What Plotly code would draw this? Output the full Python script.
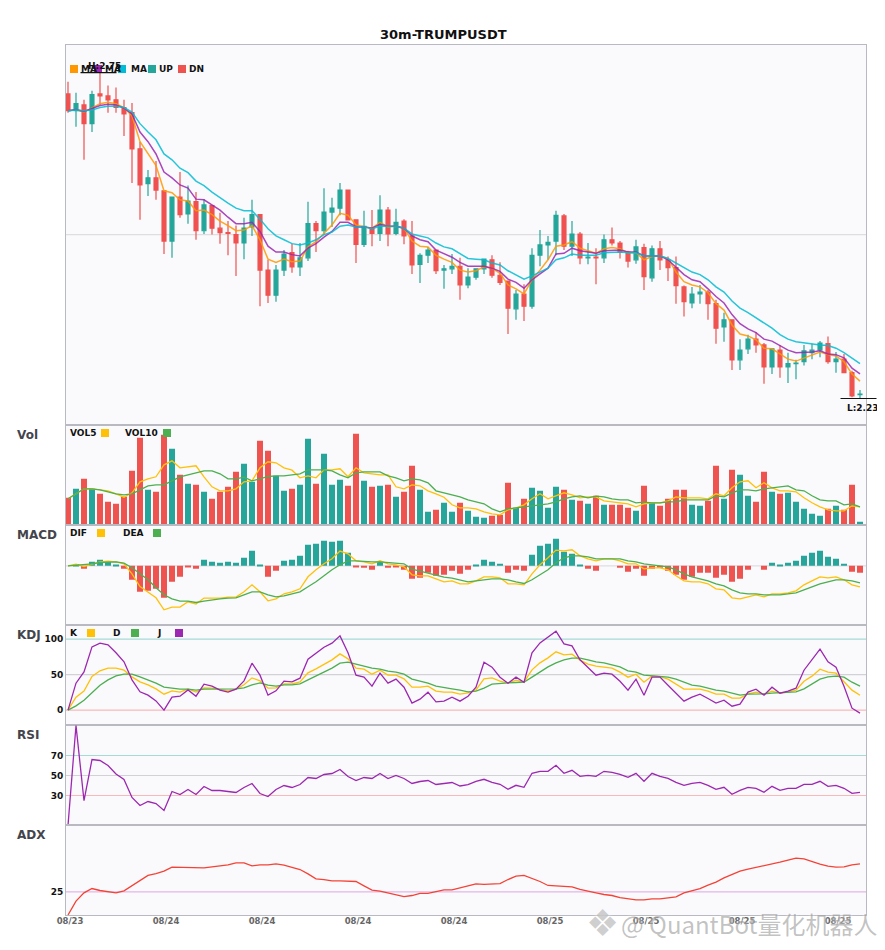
from plotly.subplots import make_subplots
import plotly.graph_objects as go

# --- Data ---
bars = list(range(100))
tick_bars = [0, 12, 24, 36, 48, 60, 72, 84, 96]
tick_dates = ['08/23', '08/24', '08/24', '08/24', '08/24', '08/25', '08/25', '08/25', '08/25']

open_px = [2.702,2.676,2.685,2.656,2.702,2.699,2.693,2.681,2.673,2.617,
    2.563,2.572,2.552,2.474,2.542,2.516,2.535,2.490,2.529,2.494,
    2.487,2.484,2.471,2.496,2.515,2.429,2.390,2.429,2.456,2.434,
    2.448,2.501,2.490,2.519,2.525,2.553,2.507,2.469,2.494,2.486,
    2.522,2.486,2.505,2.482,2.438,2.452,2.460,2.429,2.431,2.435,
    2.406,2.418,2.431,2.445,2.421,2.412,2.369,2.392,2.373,2.452,
    2.468,2.474,2.513,2.466,2.485,2.448,2.449,2.448,2.476,2.471,
    2.457,2.445,2.464,2.417,2.462,2.445,2.433,2.403,2.378,2.392,
    2.395,2.377,2.341,2.352,2.290,2.307,2.322,2.313,2.279,2.305,
    2.279,2.284,2.287,2.301,2.305,2.315,2.287,2.291,2.270,2.236]
close_px = [2.676,2.687,2.656,2.701,2.699,2.693,2.681,2.671,2.617,2.561,
    2.572,2.553,2.474,2.542,2.515,2.536,2.490,2.530,2.494,2.487,
    2.486,2.471,2.494,2.515,2.429,2.390,2.429,2.454,2.434,2.448,
    2.501,2.490,2.519,2.525,2.553,2.507,2.469,2.497,2.486,2.522,
    2.485,2.503,2.482,2.437,2.452,2.460,2.428,2.431,2.435,2.406,
    2.418,2.431,2.446,2.421,2.410,2.370,2.392,2.373,2.452,2.468,
    2.472,2.514,2.466,2.485,2.448,2.449,2.448,2.476,2.471,2.457,
    2.443,2.465,2.419,2.462,2.445,2.433,2.405,2.380,2.392,2.395,
    2.377,2.339,2.352,2.290,2.305,2.322,2.313,2.279,2.307,2.279,
    2.284,2.285,2.304,2.305,2.316,2.287,2.291,2.270,2.234,2.237]
high_px = [2.721,2.704,2.693,2.707,2.735,2.715,2.712,2.693,2.688,2.628,
    2.584,2.598,2.552,2.542,2.581,2.560,2.550,2.539,2.530,2.518,
    2.505,2.498,2.510,2.538,2.515,2.445,2.437,2.460,2.470,2.471,
    2.535,2.505,2.556,2.541,2.564,2.553,2.508,2.521,2.522,2.545,
    2.527,2.524,2.508,2.505,2.455,2.465,2.460,2.437,2.454,2.448,
    2.432,2.432,2.446,2.452,2.441,2.412,2.398,2.407,2.463,2.491,
    2.482,2.521,2.516,2.505,2.488,2.471,2.463,2.484,2.495,2.474,
    2.459,2.476,2.470,2.467,2.474,2.450,2.450,2.405,2.403,2.406,
    2.398,2.383,2.363,2.353,2.322,2.329,2.333,2.316,2.308,2.313,
    2.301,2.290,2.313,2.315,2.319,2.326,2.302,2.299,2.273,2.243]
low_px = [2.673,2.651,2.600,2.643,2.685,2.673,2.673,2.637,2.564,2.507,
    2.544,2.538,2.454,2.448,2.510,2.501,2.476,2.485,2.484,2.470,
    2.452,2.420,2.446,2.482,2.373,2.378,2.380,2.420,2.425,2.420,
    2.443,2.457,2.484,2.496,2.514,2.507,2.440,2.465,2.466,2.474,
    2.466,2.483,2.469,2.423,2.409,2.440,2.423,2.400,2.423,2.383,
    2.401,2.414,2.423,2.417,2.406,2.330,2.352,2.350,2.369,2.435,
    2.445,2.452,2.460,2.451,2.438,2.438,2.407,2.440,2.467,2.447,
    2.433,2.439,2.398,2.411,2.429,2.412,2.377,2.357,2.370,2.377,
    2.352,2.315,2.318,2.274,2.274,2.299,2.301,2.253,2.268,2.262,
    2.254,2.260,2.281,2.291,2.294,2.284,2.270,2.270,2.232,2.230]

ma_fast = [2.676,2.677,2.674,2.681,2.687,2.689,2.687,2.681,2.668,2.628,
    2.609,2.591,2.552,2.549,2.538,2.536,2.521,2.522,2.515,2.505,
    2.498,2.490,2.491,2.498,2.476,2.446,2.441,2.446,2.442,2.443,
    2.465,2.473,2.486,2.499,2.517,2.514,2.499,2.497,2.494,2.503,
    2.496,2.497,2.494,2.474,2.466,2.465,2.452,2.446,2.441,2.429,
    2.426,2.428,2.434,2.432,2.424,2.406,2.400,2.392,2.414,2.429,
    2.445,2.466,2.468,2.473,2.463,2.459,2.455,2.462,2.464,2.462,
    2.456,2.456,2.445,2.450,2.451,2.447,2.426,2.411,2.406,2.403,
    2.394,2.377,2.367,2.344,2.330,2.327,2.321,2.308,2.307,2.299,
    2.291,2.288,2.293,2.298,2.302,2.298,2.296,2.287,2.268,2.257]
ma_mid = [2.676,2.678,2.675,2.679,2.684,2.686,2.685,2.680,2.671,2.643,
    2.628,2.609,2.581,2.572,2.561,2.556,2.539,2.538,2.530,2.522,
    2.511,2.501,2.501,2.503,2.489,2.466,2.457,2.457,2.453,2.451,
    2.463,2.470,2.480,2.489,2.503,2.503,2.496,2.496,2.494,2.500,
    2.497,2.497,2.494,2.482,2.476,2.473,2.460,2.454,2.449,2.441,
    2.435,2.435,2.435,2.432,2.427,2.415,2.410,2.401,2.414,2.423,
    2.432,2.454,2.455,2.463,2.459,2.457,2.455,2.459,2.460,2.460,
    2.457,2.457,2.451,2.451,2.451,2.445,2.434,2.422,2.414,2.411,
    2.400,2.388,2.378,2.360,2.346,2.338,2.332,2.322,2.319,2.312,
    2.305,2.301,2.301,2.302,2.304,2.299,2.298,2.293,2.277,2.268]
ma_slow = [2.676,2.677,2.676,2.677,2.681,2.683,2.683,2.681,2.674,2.656,
    2.643,2.631,2.609,2.600,2.587,2.580,2.567,2.560,2.550,2.541,
    2.533,2.525,2.521,2.521,2.508,2.493,2.482,2.476,2.470,2.468,
    2.471,2.476,2.484,2.488,2.497,2.499,2.496,2.496,2.493,2.497,
    2.497,2.497,2.494,2.485,2.482,2.479,2.471,2.465,2.462,2.454,
    2.447,2.446,2.445,2.440,2.437,2.428,2.421,2.415,2.420,2.426,
    2.432,2.445,2.448,2.454,2.452,2.452,2.452,2.456,2.457,2.457,
    2.456,2.456,2.451,2.451,2.451,2.447,2.440,2.433,2.426,2.422,
    2.414,2.403,2.395,2.381,2.370,2.363,2.355,2.346,2.339,2.329,
    2.322,2.318,2.316,2.315,2.313,2.312,2.308,2.301,2.293,2.284]

volume = [26.7,35.7,45.7,35.7,30.7,22.7,20.7,27.7,53.7,86.7,
    34.7,32.7,89.7,75.7,49.7,40.7,39.7,32.7,25.7,32.7,
    37.7,52.7,60.7,42.7,83.7,73.7,48.7,33.7,35.7,39.7,
    85.7,40.7,70.7,39.7,44.7,38.7,90.7,43.7,37.7,38.7,
    39.7,27.7,32.7,58.7,34.7,12.7,14.7,21.7,12.7,21.7,
    13.7,7.7,6.7,8.7,9.7,41.7,16.7,25.7,36.7,33.7,
    16.7,37.7,34.7,24.7,23.7,20.7,28.7,19.7,19.7,19.7,
    16.7,13.7,38.7,21.7,18.7,25.7,34.7,34.7,19.7,18.7,
    23.7,58.7,25.7,54.7,49.7,28.7,22.7,52.7,32.7,30.7,
    31.7,22.7,15.7,10.7,8.7,15.7,18.7,14.7,39.7,2.7]
vol5 = [25.7,30.7,35.7,35.7,34.7,33.7,30.7,27.3,31.7,42.7,
    45.7,47.7,59.7,63.7,56.7,57.7,58.7,47.7,37.7,33.7,
    33.7,35.7,42.7,43.7,56.7,62.7,61.7,56.7,54.3,46.7,
    48.7,46.7,54.7,54.7,55.7,47.7,56.7,51.7,50.7,49.7,
    49.7,37.7,35.7,39.7,38.7,33.7,30.7,27.3,19.7,16.7,
    16.7,15.7,12.7,10.7,9.7,14.7,16.7,19.7,25.7,30.7,
    25.7,28.7,31.7,29.7,26.7,27.7,27.7,23.7,22.7,21.7,
    20.7,17.7,20.7,21.7,21.7,23.7,27.7,26.7,26.7,26.7,
    25.7,30.7,28.7,36.7,42.7,43.7,36.7,41.7,36.7,33.7,
    33.7,32.7,26.7,21.7,17.7,14.7,13.7,13.7,18.7,17.7]
vol10 = [25.7,30.7,35.7,35.7,34.7,32.7,30.7,29.7,30.7,34.7,
    38.7,39.7,39.7,43.7,47.7,49.7,51.7,53.7,53.7,50.7,
    45.7,45.7,47.3,43.7,45.7,48,48.7,48.7,49.7,50.7,
    54.7,54.7,54.7,53.7,49.7,46.7,51.7,52.7,52.7,52.7,
    48.7,46.7,43.7,45.7,44.7,41.7,33.7,31.7,29.7,27.7,
    24.7,22.7,20.7,15.7,12.7,15.7,16.7,17.7,18.7,19.7,
    20.7,22.7,25.7,27.7,28.7,26.7,28.3,27.7,25.7,24.7,
    24.7,21.7,22.3,21.7,21.7,22.7,22.7,24.7,24.7,24.7,
    24.7,28.7,27.7,31.7,34.7,34.7,33.7,35.7,36.7,37.7,
    38.7,34.7,33.7,28.7,24.7,23.7,23.7,19.7,20.7,17.7]

# MACD values are in thousandths
macd_hist = [0,1.7,-3,4,6,4.7,1,-3,-14,-26,
    -25,-23,-32,-16,-11,-1,-3,6,4,3,
    4,3,8,15,1,-11,-5,5,6,10,
    21,22,25,24,25,13,-1,-2,-4,4,
    -2,-1,-4,-13,-12,-7,-10,-9,-5,-8,
    -4,1,6,4,2,-7,-4,-5,11,20,
    22,27,14,12,1,-3,-5,0,0,-2,
    -6,-3,-10,-3,-2,-5,-9,-14,-11,-7,
    -7,-12,-9,-16,-13,-4,0,-4,3,1,
    3,5,10,13,15,9,7,2,-6,-7]
dif = [0,1.7,-0.7,2,4,4.7,4,2,-8,-20.7,
    -26.3,-32,-44,-41.3,-41.3,-36,-38.3,-32.3,-32.3,-32.3,
    -31.3,-31.3,-26,-19,-26,-35,-33,-28,-26,-23,
    -11,-4,2,7,14.7,12,5,4,2,5,
    2,1,-1,-9,-10,-10,-13,-16,-15,-18,
    -18,-15,-11,-11,-12,-18,-18,-19,-8,1,
    8,15.7,15,16,10,7,5,7,7,5,
    2,2,-3,-2,-2,-4,-10,-15,-16,-16,
    -18,-23,-24,-32,-33,-31,-29,-31,-28,-28,
    -27,-25,-19,-15,-11,-12,-11,-14,-19,-21]
dea = [0,0.7,0.7,2,3.3,4,4,2.7,-2,-8,
    -14,-22,-29,-33,-35.3,-35.3,-36.7,-35.3,-34,-33,
    -32.3,-32,-29,-26,-26,-29,-31,-30,-28,-26,
    -21,-16,-10,-4,1,5,5,4.3,4,4,
    3.3,3,2,-3.3,-5.3,-7,-9,-11.3,-12.3,-14,
    -16,-15,-14,-13,-13,-14,-16,-17.7,-14,-9,
    -4,3,8,10,10,9,7,7,7,7,
    5,4,2,1,0,-1,-4,-8,-11,-13,
    -15,-18,-20,-24,-27,-28,-28,-29,-29,-29,
    -28,-27,-24,-21,-18,-16,-14,-14,-15,-17]

kdj_k = [0,18.3,26.8,47.4,55.4,59.2,59.2,56.3,46.9,39.9,
    35.7,30,22.5,27.2,25.4,30,25.4,31.5,31,29.6,
    27.2,29.6,35.7,45.5,41.3,31,31.5,37.1,37.1,39.9,
    52.6,58.2,64.8,70.9,79.3,72.3,59.2,57.8,50.7,56.3,
    49.3,49.3,44.1,32.4,32.4,33.8,26.8,25.4,25.4,22.5,
    24.4,28.6,44.1,45.5,40.8,38,42.3,39.4,56.8,66.7,
    73.7,82.2,78,78.9,70.4,64.8,62,60.6,59.2,53.5,
    46.5,50.7,39.4,48.3,47.4,43.7,36.6,29.6,29.6,29.6,
    26.8,22.5,22.5,16.9,16.9,23,25.4,22.5,26.8,23.9,
    25.4,28.2,40.8,47.9,57.8,53.5,52.1,40.8,28.2,21.1]
kdj_d = [0,6.1,14.1,24.4,35.2,42.7,48.3,50.7,50.7,46.9,
    42.7,38,32.4,31,29.6,29.6,28.2,29.6,29.6,29.6,
    29.6,30,31.5,35.7,38.5,35.2,33.8,35.7,35.7,37.1,
    42.7,48.3,53.9,59.2,66.2,67.6,64.8,62,59.2,57.8,
    55,53.5,50.7,43.7,40.8,38,33.8,31.5,30,28.2,
    25.8,26.8,31,36.6,38,38.5,39,39.4,46.5,54,
    61,66.7,70.9,73.2,73.2,70.9,68.1,66.7,63.8,61,
    55.4,53.5,49.3,48.3,47.4,46.5,43.7,39.4,35.2,33.8,
    31,28.2,26.8,23.9,21.1,22.5,22.5,23,23.9,24.4,
    24.9,25.8,30,36.6,43.7,46.9,47.9,46.5,39.4,33.8]
kdj_j = [0,38,54,89.2,94.4,92,80.8,68.1,42.7,25.8,
    21.1,13.1,0,18.3,19.7,28.6,19.7,36.6,33.8,28.2,
    25.4,29.6,41.3,66.2,49.3,21.1,27.2,40.8,39.9,45.1,
    71.8,80.3,88.7,94.4,104.7,80.8,49.3,46.5,33.8,52.1,
    38,43.7,32.4,9.9,15.5,25.4,11.7,12.7,18.3,12.7,
    19.7,32.4,67.6,60.6,46.5,38,46.5,39.4,80.8,94.8,
    102.8,111.3,93.4,90.6,70.9,60.6,49.3,52.1,50.7,40.8,
    28.2,43.7,21.1,46.5,46.5,35.2,23.9,12.7,18.3,22.5,
    16.4,9.9,14.1,5.6,8.5,25.4,29.6,21.1,32.4,23.9,
    26.8,31,56.3,70.9,85.9,68.1,60.6,33.8,2.8,-4.2]

rsi = [0,100,24.8,66,65,60,51.5,46,28,20,
    24,22,15,34,31,36,31,39,35,35,
    34,33,38,42,32,29,36,40,38,41,
    48,47,51,52,56,49,45,48,47,52,
    47,50,47,42,44,45,41,42,43,39.5,
    40.8,44.2,46.2,43.2,41.2,36.2,40.2,38.2,52.2,54.2,
    54.2,60.2,52.2,55.2,49.2,50.2,49.2,54.2,53.2,51.2,
    48.2,52.2,44.2,52.2,49.2,47.2,43.2,40.2,42.2,43.2,
    40.2,36.2,38.2,31.2,35.2,38.2,37.2,33.2,39.2,35.2,
    37.2,37.2,41.2,41.2,44.2,39.2,40.2,37.2,32.2,33.2]

adx = [0,14.9,23.9,28.5,26.4,25.3,23.9,26,31.8,37.5,
    42.6,44.7,47.2,51.5,51.2,50.8,50.8,50.8,51.9,53,
    54,56.2,56.2,53,54,54,55.1,53.7,51.2,49,
    44.3,39,38.2,36.8,36.8,36.8,36.1,31.4,26.8,25.7,
    23.9,22.1,19.9,21,23.2,23.2,24.9,27.1,27.1,29.3,
    31.8,33.6,32.9,33.6,33.9,38.2,41.8,42.6,39.7,36.1,
    31.8,31.4,31.1,30.3,27.5,25.3,23.9,22.1,21,18.8,
    17.4,16.3,16.3,17.4,17.4,18.1,19.6,23.9,26,28.5,
    32.1,35.4,40,43.6,47.2,49.4,51.2,52.6,54.4,56.9,
    59.1,61.2,60.5,57.3,54.8,52.6,51.5,51.9,54,55.1]

# --- Colours ---
UP = '#26A69A'
DN = '#EF5350'
ORANGE = '#FF9800'
PURPLE = '#9C27B0'
CYAN = '#00BCD4'
YELLOW = '#FFC107'
GREEN = '#4CAF50'
BG = '#FAFAFD'
BORDER = '#B9B9C2'
FONT = 'DejaVu Sans'

# --- Page geometry, used only to place the legend boxes and labels ---
# the page body has an 8px margin, so the figure is 8px smaller than the window
PAGE_W, PAGE_H = 885, 950
BODY = 8
LEFT, RIGHT, TOP, BOTTOM = 66, 866, 45, 915
X_RANGE = [-0.25, 99.75]


def fx(px):
    return (px - LEFT) / (RIGHT - LEFT)


def fy(py):
    return (BOTTOM - py) / (BOTTOM - TOP)


def bar_to_paper(i):
    return (i - X_RANGE[0]) / (X_RANGE[1] - X_RANGE[0])


fig = make_subplots(rows=6, cols=1, shared_xaxes=True, vertical_spacing=0,
                    row_heights=[379.5, 100, 100, 100, 100, 90.5])

# --- Price panel ---
fig.add_trace(go.Candlestick(x=bars, open=open_px, high=high_px, low=low_px, close=close_px,
                             increasing=dict(line=dict(color=UP, width=1.2), fillcolor=UP),
                             decreasing=dict(line=dict(color=DN, width=1.2), fillcolor=DN),
                             whiskerwidth=0), row=1, col=1)
for vals, color in [(ma_fast, ORANGE), (ma_mid, PURPLE), (ma_slow, CYAN)]:
    fig.add_trace(go.Scatter(x=bars, y=vals, mode='lines', line=dict(color=color, width=1.5),
                             opacity=0.85), row=1, col=1)

# --- Volume panel ---
vol_colors = [UP if c >= o else DN for o, c in zip(open_px, close_px)]
fig.add_trace(go.Bar(x=bars, y=volume, width=0.75, marker=dict(color=vol_colors, line_width=0)), row=2, col=1)
for vals, color in [(vol5, YELLOW), (vol10, GREEN)]:
    fig.add_trace(go.Scatter(x=bars, y=vals, mode='lines', line=dict(color=color, width=1.3)), row=2, col=1)

# --- MACD panel ---
hist_colors = [UP if h >= 0 else DN for h in macd_hist]
fig.add_trace(go.Bar(x=bars, y=macd_hist, width=0.75, marker=dict(color=hist_colors, line_width=0)), row=3, col=1)
for vals, color in [(dif, YELLOW), (dea, GREEN)]:
    fig.add_trace(go.Scatter(x=bars, y=vals, mode='lines', line=dict(color=color, width=1.3)), row=3, col=1)

# --- KDJ, RSI, ADX panels ---
for vals, color in [(kdj_k, YELLOW), (kdj_d, GREEN), (kdj_j, PURPLE)]:
    fig.add_trace(go.Scatter(x=bars, y=vals, mode='lines', line=dict(color=color, width=1.3)), row=4, col=1)
fig.add_trace(go.Scatter(x=bars, y=rsi, mode='lines', line=dict(color=PURPLE, width=1.3)), row=5, col=1)
fig.add_trace(go.Scatter(x=bars, y=adx, mode='lines', line=dict(color='#F44336', width=1.3)), row=6, col=1)

# Reference levels
levels = [(1, 2.484, '#DEDEE2'), (3, 0, '#DEDEE2'),
          (4, 100, '#A6DAD5'), (4, 50, '#D2D2D6'), (4, 0, '#F9B9B9'),
          (5, 70, '#A6DAD5'), (5, 50, '#D2D2D6'), (5, 30, '#F9B9B9'),
          (6, 25, '#E3B5E6')]
for row, level, color in levels:
    fig.add_hline(y=level, row=row, col=1, layer='below', line=dict(color=color, width=1.2))

# --- Axes ---
fig.update_xaxes(range=X_RANGE, showgrid=False, zeroline=False, showline=True, mirror=True,
                 linecolor=BORDER, linewidth=1, ticks='', rangeslider_visible=False)
fig.update_xaxes(tickmode='array', tickvals=tick_bars, ticktext=tick_dates, showticklabels=True,
                 tickfont=dict(family=FONT, size=8.5, color='#666666', weight='bold'),
                 ticklabelshift=2, ticklabelstandoff=-2, row=6, col=1)
fig.update_yaxes(showgrid=False, zeroline=False, showline=True, mirror=True, linecolor=BORDER,
                 linewidth=1, ticks='', showticklabels=False)
fig.update_yaxes(range=[2.1897, 2.7779], row=1, col=1)
fig.update_yaxes(range=[0, 100], row=2, col=1)
fig.update_yaxes(range=[-58.7, 41.3], row=3, col=1)
tick_font = dict(family=FONT, size=9, color='#111111', weight='bold')
fig.update_yaxes(range=[-20.2, 120.7], tickvals=[0, 50, 100], showticklabels=True, tickfont=tick_font, row=4, col=1)
fig.update_yaxes(range=[1, 101], tickvals=[30, 50, 70], showticklabels=True, tickfont=tick_font, row=5, col=1)
fig.update_yaxes(range=[0, 97.5], tickvals=[25], showticklabels=True, tickfont=tick_font, row=6, col=1)

# --- Title, panel names, legends ---
annotations = []


def add_text(text, x, y, size=9, color='#111111', anchor='left', family=FONT, weight='bold', shadow=None):
    font = dict(family=family, size=size, color=color, weight=weight)
    if shadow:
        font['shadow'] = shadow
    annotations.append(dict(text=text, xref='paper', yref='paper', x=fx(x), y=fy(y), xanchor=anchor,
                            yanchor='middle', showarrow=False, align=anchor, font=font))


add_text('30m-TRUMPUSDT', 443, 35, size=13, anchor='center')
for name, y in [('Vol', 434.5), ('MACD', 535), ('KDJ', 635), ('RSI', 735), ('ADX', 835)]:
    add_text(name, 15, y, size=12, color='#44444C')

# (text, text x, square x, square colour, y)
legend_items = [
    ('MA', 79, 70, ORANGE, 69), ('MA', 103, 94, PURPLE, 69), ('MA', 129, 118, CYAN, 69),
    ('UP', 157, 148, UP, 69), ('DN', 187, 178, DN, 69),
    ('VOL5', 68, 101, YELLOW, 433), ('VOL10', 123, 163, GREEN, 433),
    ('DIF', 68, 97, YELLOW, 533), ('DEA', 121, 153, GREEN, 533),
    ('K', 68, 87, YELLOW, 633), ('D', 111, 131, GREEN, 633), ('J', 155, 175, PURPLE, 633),
]
for text, tx, sx, color, y in legend_items:
    add_text(text, tx, y)
    fig.add_shape(type='rect', xref='paper', yref='paper', x0=fx(sx), x1=fx(sx + 8),
                  y0=fy(y + 4), y1=fy(y - 4), fillcolor=color, line_width=0)

# High / low markers
hi_val = max(high_px)
lo_val = min(low_px)
hi_bar = high_px.index(hi_val)
lo_bar = low_px.index(lo_val)
for bar, val in [(hi_bar, hi_val), (lo_bar, lo_val)]:
    mid = bar_to_paper(bar) - 1.5 / (RIGHT - LEFT)
    half = 18 / (RIGHT - LEFT)
    fig.add_shape(type='line', xref='paper', yref='y', x0=mid - half, x1=mid + half, y0=val, y1=val,
                  line=dict(color='#111111', width=1.2))
note_font = dict(family=FONT, size=9, color='#111111', weight='bold')
annotations.append(dict(text='H:2.75', x=hi_bar, y=hi_val, xref='x', yref='y', xshift=4, yshift=7,
                        showarrow=False, font=note_font))
annotations.append(dict(text='L:2.23', x=lo_bar, y=lo_val, xref='x', yref='y', xshift=3, yshift=-9,
                        showarrow=False, font=note_font))

# Watermark
halo = '0 0 3px white, 0 0 3px white'
add_text('❖', 584, 924, size=37, color='rgba(160,160,160,0.5)', weight='normal', shadow=halo)
add_text('@ QuantBot量化机器人', 619, 924, size=24, color='rgba(120,120,120,0.45)',
         family='Noto Sans CJK SC', weight='normal', shadow=halo)

fig.update_layout(width=PAGE_W - BODY, height=PAGE_H - BODY, showlegend=False, plot_bgcolor=BG,
                  paper_bgcolor='white',
                  margin=dict(l=LEFT - BODY, r=PAGE_W - RIGHT, t=TOP - BODY, b=PAGE_H - BOTTOM, pad=0),
                  annotations=annotations, hovermode=False, font=dict(family=FONT))

fig.write_html("out.html")
